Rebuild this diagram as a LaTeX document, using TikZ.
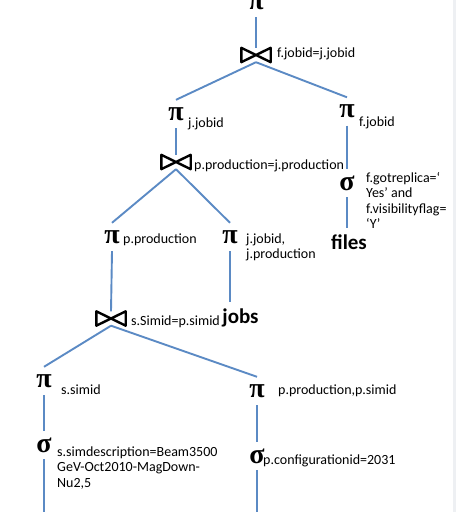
\documentclass[tikz,border=0pt]{standalone}
\usepackage{fontspec}
\setmainfont{Carlito}
\newfontfamily\opfont{Liberation Serif}
\usetikzlibrary{positioning}
\definecolor{qblue}{RGB}{91,138,196}
\definecolor{qstrip}{RGB}{238,240,243}

\begin{document}
\begin{tikzpicture}[x=1pt,y=-1pt,
  op/.style={inner sep=0pt,minimum width=16pt,minimum height=28pt,
             font=\opfont\bfseries\fontsize{28}{28}\selectfont},
  joinop/.style={inner sep=0pt,minimum width=29pt,minimum height=14pt},
  bowtie/.style={line width=2.4pt,line join=round},
  link/.style={qblue,line width=1.9pt},
  lab/.style={inner sep=0pt,anchor=west,align=left,
              font=\fontsize{14}{15.5}\selectfont},
  leaf/.style={inner sep=0pt,outer ysep=7pt,
               font=\bfseries\fontsize{21}{21}\selectfont}]
  \useasboundingbox (0,0) rectangle (456,512);
  \fill[qstrip] (453,0) rectangle (456,512);

  % operators
  \node[op] (pi0) at (256,3) {π};
  \node[joinop] (j1) at (256,55) {};
  \node[op] (pJ) at (176,114) {π};
  \node[op] (pF) at (347,111.5) {π};
  \node[joinop] (j2) at (176,162) {};
  \node[op] (sF) at (347,183) {σ};
  \node[op] (pP) at (112,237) {π};
  \node[op] (pJP) at (230,237) {π};
  \node[joinop] (j3) at (111,318.5) {};
  \node[op] (pS) at (44,381) {π};
  \node[op] (pPS) at (257,391) {π};
  \node[op] (sS) at (44,445) {σ};
  \node[op] (sP) at (257,456) {σ};
  \foreach \j in {j1,j2,j3}
    \draw[bowtie] (\j.north west) -- (\j.south east) -- (\j.north east)
      -- (\j.south west) -- cycle;

  % relations
  \node[leaf] (files) at (349,242.5) {files};
  \node[leaf] (jobs) at (240.5,318) {jobs};
  \coordinate (bS) at (44,512);
  \coordinate (bP) at (257,512);

  % conditions
  \node[lab] (l1) at (277,53.5) {f.jobid=j.jobid};
  \node[lab] (lpJ) at (188,123.5) {j.jobid};
  \node[lab] (lpF) at (359,122.5) {f.jobid};
  \node[lab] (l2) at (194,166) {p.production=j.production};
  \node[lab] (lsF) at (366,200.5) {f.gotreplica=‘\\Yes’ and\\f.visibilityflag=\\‘Y’};
  \node[lab] (lpP) at (123,240) {p.production};
  \node[lab] (lpJP) at (246,247.5) {j.jobid,\\j.production};
  \node[lab] (l3) at (131,322) {s.Simid=p.simid};
  \node[lab] (lpS) at (61,390) {s.simid};
  \node[lab] (lpPS) at (278,391) {p.production,p.simid};
  \node[lab] (lsS) at (57,468) {s.simdescription=Beam3500\\GeV-Oct2010-MagDown-\\Nu2,5};
  \node[lab] (lsP) at (263,461) {p.configurationid=2031};

  % tree edges
  \draw[link] (pi0.south) -- (j1.north);
  \draw[link] (j1.south) -- (pJ.north);
  \draw[link] (j1.south) -- (pF.north);
  \draw[link] (pJ.south) -- (j2.north);
  \draw[link] (pF.south) -- (sF.north);
  \draw[link] (sF.south) -- (sF.south |- files.north);
  \draw[link] (j2.south) -- (pP.north);
  \draw[link] (j2.south) -- (pJP.north);
  \draw[link] (pP.south) -- (j3.north);
  \draw[link] (pJP.south) -- (pJP.south |- jobs.north);
  \draw[link] (j3.south) -- (pS.north);
  \draw[link] (j3.south) -- (pPS.north);
  \draw[link] (pS.south) -- (sS.north);
  \draw[link] (pPS.south) -- (sP.north);
  \draw[link] (sS.south) -- (bS);
  \draw[link] (sP.south) -- (bP);
\end{tikzpicture}
\end{document}
